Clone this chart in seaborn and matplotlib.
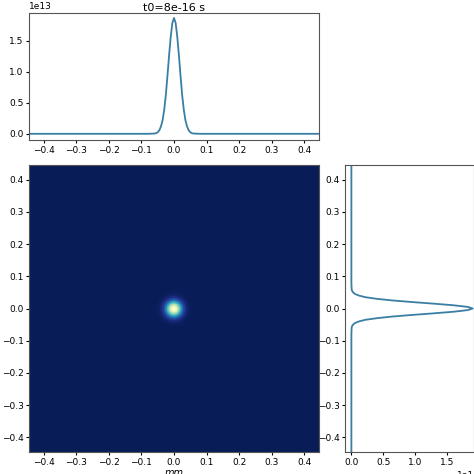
import numpy as np
import pandas as pd
import matplotlib
matplotlib.use("Agg")
import matplotlib.pyplot as plt
import seaborn as sns

# profile samples (mm)
pos = [-0.45, -0.3, -0.15, -0.08, -0.06, -0.055, -0.05, -0.045, -0.04, -0.035, -0.03, -0.025,
       -0.02, -0.015, -0.01, -0.005, 0.0, 0.005, 0.01, 0.015, 0.02, 0.025, 0.03, 0.035,
       0.04, 0.045, 0.05, 0.055, 0.06, 0.08, 0.15, 0.3, 0.45]
prof_x = [0, 0, 0, 0, 0.004, 0.01, 0.025, 0.056, 0.12, 0.22, 0.39, 0.63,
          0.94, 1.27, 1.57, 1.79, 1.87, 1.79, 1.57, 1.27, 0.94, 0.63, 0.39, 0.22,
          0.12, 0.056, 0.025, 0.01, 0.004, 0, 0, 0, 0]  # x1e13
prof_y = [0, 0, 0, 0, 0.004, 0.01, 0.026, 0.057, 0.12, 0.22, 0.40, 0.64,
          0.95, 1.29, 1.60, 1.82, 1.90, 1.82, 1.60, 1.29, 0.95, 0.64, 0.40, 0.22,
          0.12, 0.057, 0.026, 0.01, 0.004, 0, 0, 0, 0]  # x1e1

df = pd.DataFrame({"pos": pos, "px": np.array(prof_x) * 1e13, "py": np.array(prof_y) * 10})
field = np.outer(np.array(prof_y), np.array(prof_x))

fig = plt.figure(figsize=(4.74, 4.74), dpi=100)
ax_top = fig.add_axes([29/474, 1 - 140/474, 290/474, 127/474])
ax_main = fig.add_axes([29/474, 1 - 452/474, 290/474, 287/474])
ax_right = fig.add_axes([345/474, 1 - 452/474, 129/474, 287/474])

color = "#3a7fa3"
sns.lineplot(data=df, x="pos", y="px", ax=ax_top, color=color, lw=1.3)
ax_top.set_xlim(-0.445, 0.445)
ax_top.set_ylim(-0.1e13, 1.95e13)
ax_top.set_xlabel("")
ax_top.set_ylabel("")
ax_top.set_title("t0=8e-16 s", fontsize=8, pad=1)

ax_main.pcolormesh(pos, pos, field, cmap="YlGnBu_r", shading="gouraud")
ax_main.set_xlim(-0.445, 0.445)
ax_main.set_ylim(-0.445, 0.445)
ax_main.set_xlabel("mm", fontstyle="italic", fontsize=7, labelpad=1)
ax_main.set_ylabel("mm", fontstyle="italic", fontsize=7, labelpad=0)

sns.lineplot(data=df, x="py", y="pos", ax=ax_right, color=color, lw=1.3, sort=False, orient="y")
ax_right.set_ylim(-0.445, 0.445)
ax_right.set_xlim(-1, 19.2)
ax_right.set_xlabel("")
ax_right.set_ylabel("")
ax_right.ticklabel_format(axis="x", style="sci", scilimits=(1, 1))

for a in (ax_top, ax_main, ax_right):
    a.tick_params(labelsize=6.5, length=2.5, pad=1.5)
    a.xaxis.get_offset_text().set_fontsize(6.5)
    a.yaxis.get_offset_text().set_fontsize(6.5)
    for s in a.spines.values():
        s.set_color("#555555")
for a in (ax_top, ax_main):
    a.set_xticks(np.arange(-0.4, 0.41, 0.1))
for a in (ax_main, ax_right):
    a.set_yticks(np.arange(-0.4, 0.41, 0.1))
ax_top.set_yticks([0, 0.5e13, 1.0e13, 1.5e13])
ax_right.set_xticks([0, 5, 10, 15])

fig.savefig("out.png", dpi=100)
